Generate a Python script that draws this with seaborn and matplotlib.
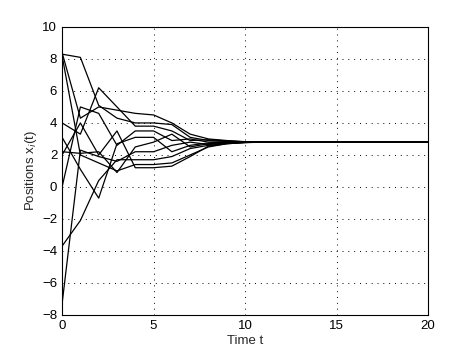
import matplotlib
matplotlib.use("Agg")
import matplotlib.pyplot as plt
import pandas as pd
import seaborn as sns

# time steps and agent positions
t = list(range(21))
x1 = [8.3, 8.1, 5.1, 4.3, 4.0, 4.0, 3.9, 3.1, 2.9, 2.85, 2.82, 2.8, 2.8, 2.8, 2.8, 2.8, 2.8, 2.8, 2.8, 2.8, 2.8]
x2 = [8.4, 4.3, 5.0, 4.8, 4.6, 4.5, 4.0, 3.3, 3.0, 2.9, 2.83, 2.8, 2.8, 2.8, 2.8, 2.8, 2.8, 2.8, 2.8, 2.8, 2.8]
x3 = [4.0, 3.3, 6.2, 5.0, 3.8, 3.8, 3.5, 2.9, 2.95, 2.88, 2.82, 2.8, 2.8, 2.8, 2.8, 2.8, 2.8, 2.8, 2.8, 2.8, 2.8]
x4 = [0.0, 5.0, 4.6, 2.6, 3.5, 3.5, 2.9, 3.0, 2.8, 2.82, 2.8, 2.8, 2.8, 2.8, 2.8, 2.8, 2.8, 2.8, 2.8, 2.8, 2.8]
x5 = [2.2, 2.1, 2.2, 0.9, 2.5, 2.8, 3.3, 2.5, 2.7, 2.78, 2.8, 2.8, 2.8, 2.8, 2.8, 2.8, 2.8, 2.8, 2.8, 2.8, 2.8]
x6 = [-7.3, 2.3, 1.9, 1.6, 2.2, 2.2, 2.6, 2.8, 2.65, 2.75, 2.79, 2.8, 2.8, 2.8, 2.8, 2.8, 2.8, 2.8, 2.8, 2.8, 2.8]
x7 = [-3.7, -2.1, 0.4, 1.7, 1.7, 1.7, 1.9, 2.4, 2.6, 2.72, 2.78, 2.8, 2.8, 2.8, 2.8, 2.8, 2.8, 2.8, 2.8, 2.8, 2.8]
x8 = [3.1, 1.1, -0.7, 2.7, 3.1, 3.1, 2.2, 2.6, 2.75, 2.8, 2.8, 2.8, 2.8, 2.8, 2.8, 2.8, 2.8, 2.8, 2.8, 2.8, 2.8]
x9 = [8.2, 2.0, 1.5, 1.0, 1.4, 1.4, 1.5, 2.0, 2.5, 2.7, 2.78, 2.8, 2.8, 2.8, 2.8, 2.8, 2.8, 2.8, 2.8, 2.8, 2.8]
x10 = [2.0, 4.0, 2.0, 3.5, 1.2, 1.2, 1.3, 1.9, 2.55, 2.7, 2.77, 2.8, 2.8, 2.8, 2.8, 2.8, 2.8, 2.8, 2.8, 2.8, 2.8]

agents = [x1, x2, x3, x4, x5, x6, x7, x8, x9, x10]

rows = []
for i, xs in enumerate(agents):
    for ti, xi in zip(t, xs):
        rows.append({"agent": i, "t": ti, "x": xi})
df = pd.DataFrame(rows)

sns.set_style("white")
plt.rcParams["font.family"] = ["Liberation Sans", "DejaVu Sans"]

fig = plt.figure(figsize=(4.74, 3.55), dpi=100)
ax = fig.add_axes([0.131, 0.113, 0.772, 0.811])

sns.lineplot(data=df, x="t", y="x", units="agent", estimator=None,
             color="black", linewidth=0.9, ax=ax)

ax.set_xlim(0, 20)
ax.set_ylim(-8, 10)
ax.set_xticks([0, 5, 10, 15, 20])
ax.set_yticks(list(range(-8, 11, 2)))
ax.grid(True, linestyle=(0, (1, 5)), color="black", linewidth=0.7)
for s in ax.spines.values():
    s.set_color("black")
    s.set_linewidth(0.8)
ax.tick_params(labelsize=9.5, direction="in", length=3, colors="black")
ax.set_xlabel("Time t", fontsize=9.5, labelpad=2)
ax.set_ylabel("Positions x$_i$(t)", fontsize=9.5, labelpad=2)

fig.savefig("out.png", dpi=100)
